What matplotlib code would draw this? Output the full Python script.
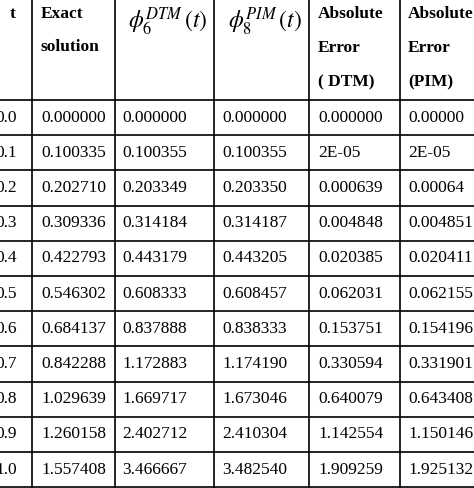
import matplotlib.pyplot as plt

plt.rcParams["mathtext.fontset"] = "stix"

t_vals = ["0.0", "0.1", "0.2", "0.3", "0.4", "0.5", "0.6", "0.7", "0.8", "0.9", "1.0"]
exact = ["0.000000", "0.100335", "0.202710", "0.309336", "0.422793", "0.546302",
         "0.684137", "0.842288", "1.029639", "1.260158", "1.557408"]
dtm = ["0.000000", "0.100355", "0.203349", "0.314184", "0.443179", "0.608333",
       "0.837888", "1.172883", "1.669717", "2.402712", "3.466667"]
pim = ["0.000000", "0.100355", "0.203350", "0.314187", "0.443205", "0.608457",
       "0.838333", "1.174190", "1.673046", "2.410304", "3.482540"]
err_dtm = ["0.000000", "2E-05", "0.000639", "0.004848", "0.020385", "0.062031",
           "0.153751", "0.330594", "0.640079", "1.142554", "1.909259"]
err_pim = ["0.00000", "2E-05", "0.00064", "0.004851", "0.020411", "0.062155",
           "0.154196", "0.331901", "0.643408", "1.150146", "1.925132"]

W, H = 474, 488
fig = plt.figure(figsize=(W / 100, H / 100), dpi=100)
ax = fig.add_axes([0, 0, 1, 1])
ax.set_xlim(0, W)
ax.set_ylim(H, 0)
ax.axis("off")

col_lines = [32, 115, 214, 309, 400]
col_text = [-5, 41, 122, 222, 318, 408]
header_bottom = 100
row_h = 35.2
rows = [header_bottom + i * row_h for i in range(12)]

for x in col_lines:
    ax.plot([x, x], [0, H], color="black", lw=1.2)
for y in rows:
    ax.plot([0, W], [y, y], color="black", lw=1.2)

font = dict(family="Liberation Serif", fontsize=12.5, va="center", ha="left")
bold = dict(font, fontweight="bold")

ax.text(10, 14, "t", **bold)
ax.text(col_text[1], 14, "Exact", **bold)
ax.text(col_text[1], 47, "solution", **bold)
ax.text(col_text[2] + 6, 22, r"$\phi_6^{DTM}\,(t)$", fontsize=17, va="center")
ax.text(col_text[3] + 6, 22, r"$\phi_8^{PIM}\,(t)$", fontsize=17, va="center")
for x, lines in [(col_text[4], ["Absolute", "Error", "( DTM)"]),
                 (col_text[5], ["Absolute", "Error", "(PIM)"])]:
    for k, s in enumerate(lines):
        ax.text(x, 14 + k * 34, s, **bold)

columns = [t_vals, exact, dtm, pim, err_dtm, err_pim]
for c, vals in enumerate(columns):
    for i, v in enumerate(vals):
        ax.text(col_text[c], rows[i] + row_h / 2, v, **font)

fig.savefig("out.png", dpi=100)
